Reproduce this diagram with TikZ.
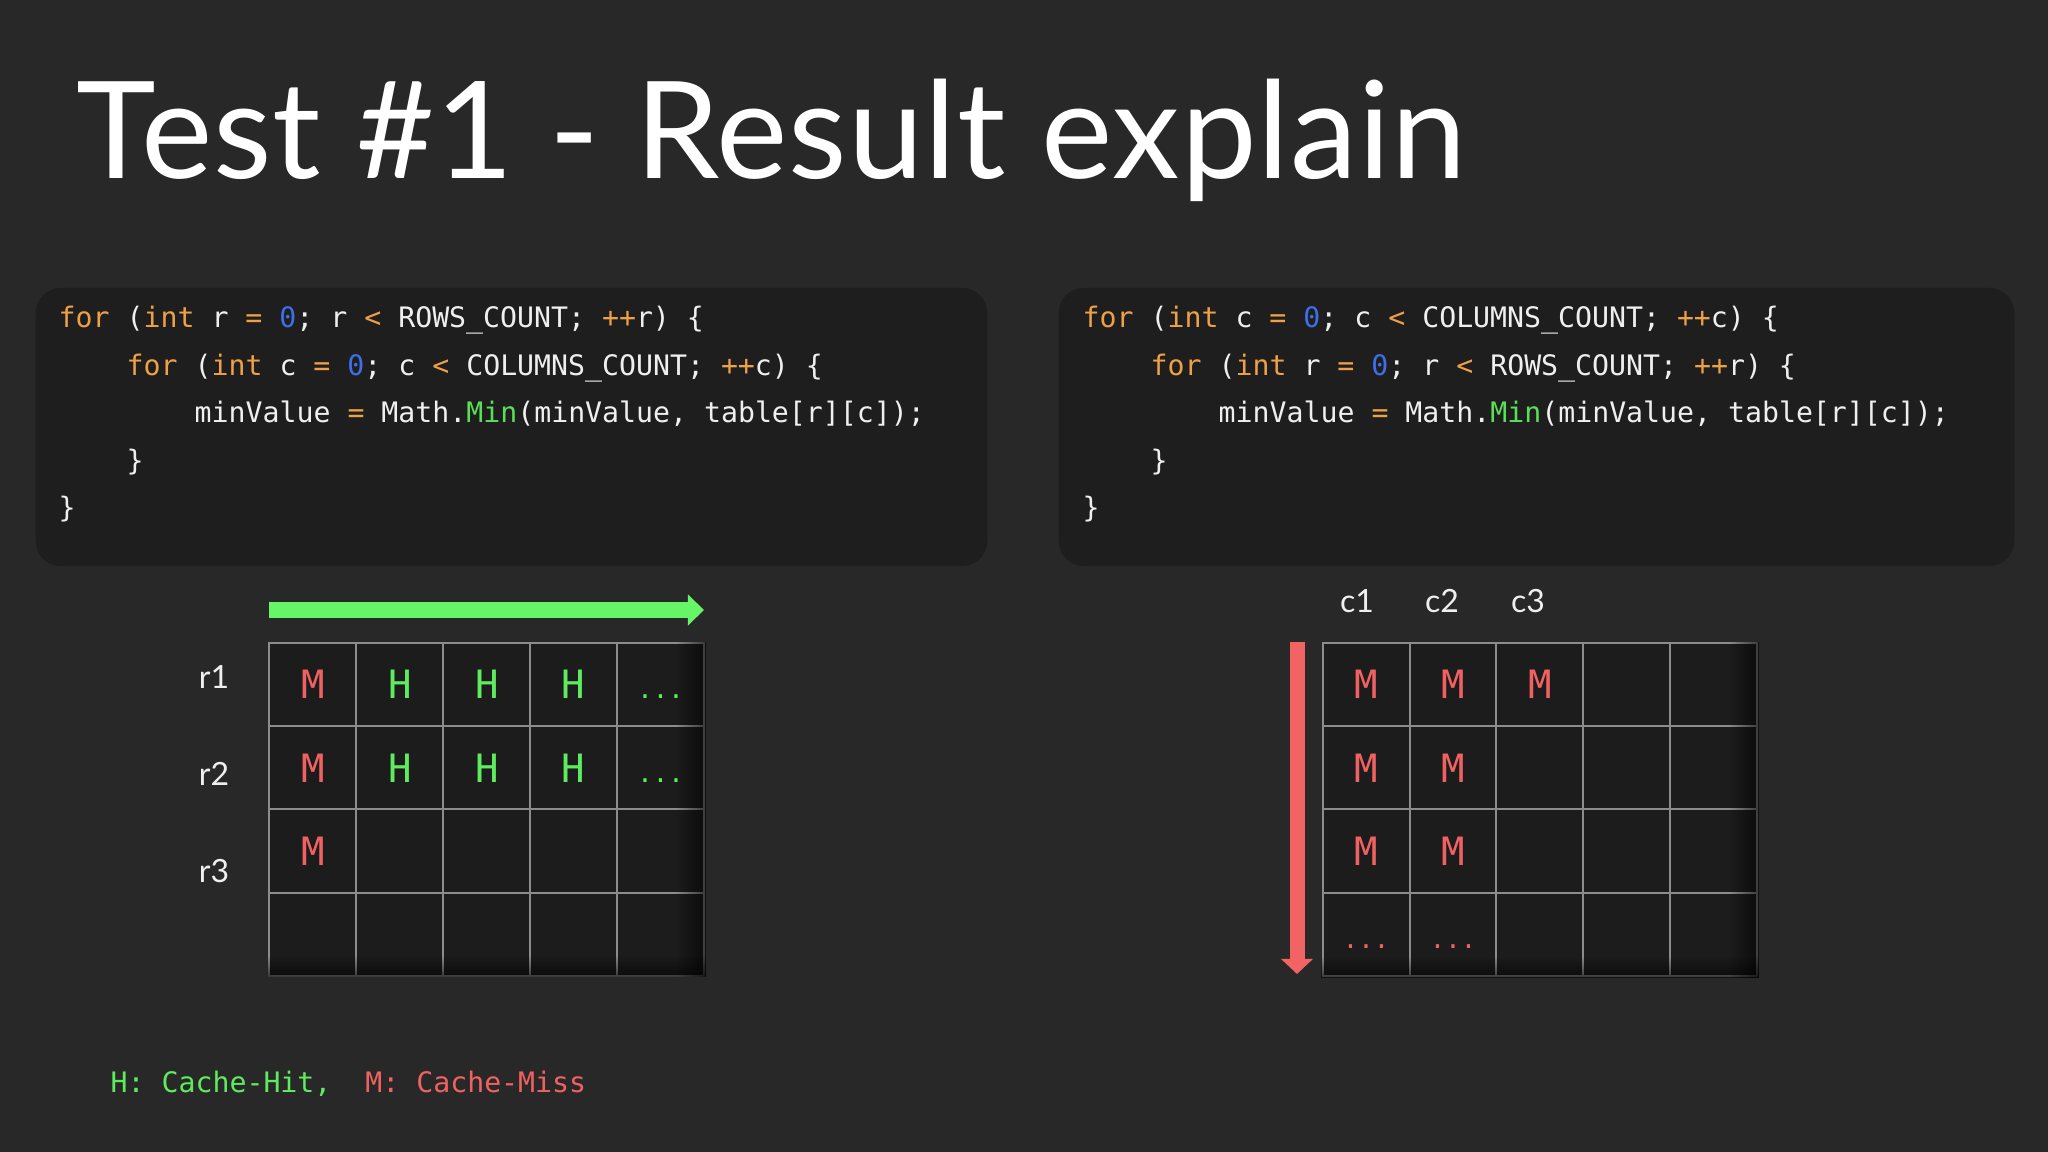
\documentclass[tikz,border=0pt]{standalone}
\usepackage{fontspec}
\usetikzlibrary{arrows.meta,fadings}
\setmainfont{Lato}
\newfontfamily\titlefont[LetterSpace=0.7]{Lato}
\newfontfamily\codefont{DejaVu Sans Mono}

\definecolor{slidebg}{HTML}{282828}
\definecolor{boxbg}{HTML}{1E1E1E}
\definecolor{cellbg}{HTML}{1C1C1C}
\definecolor{gridgray}{HTML}{8C8C8C}
\definecolor{kworange}{HTML}{EDA046}
\definecolor{numblue}{HTML}{3F6FE6}
\definecolor{fngreen}{HTML}{58E058}
\definecolor{hitgreen}{HTML}{5EEB5E}
\definecolor{missred}{HTML}{F06262}
\definecolor{arrowgreen}{HTML}{66F566}
\definecolor{arrowred}{HTML}{F26464}
\definecolor{codewhite}{HTML}{EFEFEF}

\newcommand{\kwd}[1]{\textcolor{kworange}{#1}}
\newcommand{\nmb}[1]{\textcolor{numblue}{#1}}
\newcommand{\fnc}[1]{\textcolor{fngreen}{#1}}
\newcommand{\ellip}{{\fontsize{7.3}{8}\selectfont...}}

\tikzset{
  codeline/.style={anchor=base west, inner sep=0pt, text=codewhite,
    font=\codefont\fontsize{8.02}{10}\selectfont},
  codebox/.style={fill=boxbg, rounded corners=2.5mm, inner sep=0pt},
  cell/.style={draw=gridgray, line width=0.2mm, fill=cellbg,
    minimum width=8.69mm, minimum height=8.33mm, inner sep=0pt},
  cellmark/.style={font=\codefont\fontsize{11.1}{13}\selectfont,
    text height=2.9mm, text depth=0pt, inner sep=0pt},
  axislabel/.style={anchor=base, inner sep=0pt, text=codewhite,
    font=\fontsize{9.1}{11}\selectfont}
}

\begin{document}
\begin{tikzpicture}[x=0.01cm, y=-0.01cm]
% slide
\fill[slidebg] (0,0) rectangle (2048,1152);
\useasboundingbox (0,0) rectangle (2048,1152);

\node[anchor=base west, inner sep=0pt, text=white,
  font=\titlefont\fontsize{38.4}{46}\selectfont] (title) at (76,179) {Test \#1 - Result explain};

% code boxes
\node[codebox, minimum width=9.51cm, minimum height=2.78cm] (rowbox) at (511.5,427) {};
\node[codebox, minimum width=9.55cm, minimum height=2.78cm] (colbox) at (1536.5,427) {};

% row by row
\node[codeline] (ra) at (58,328) {\kwd{for} (\kwd{int} r \kwd{=} \nmb{0}; r \kwd{<} ROWS\_COUNT; \kwd{++}r) \{};
\node[codeline] (rb) at (126,375.5) {\kwd{for} (\kwd{int} c \kwd{=} \nmb{0}; c \kwd{<} COLUMNS\_COUNT; \kwd{++}c) \{};
\node[codeline] (rc) at (194,423) {minValue \kwd{=} Math.\fnc{Min}(minValue, table[r][c]);};
\node[codeline] (rd) at (126,470.5) {\}};
\node[codeline] (re) at (58,518) {\}};

% column by column
\node[codeline] (ca) at (1082,328) {\kwd{for} (\kwd{int} c \kwd{=} \nmb{0}; c \kwd{<} COLUMNS\_COUNT; \kwd{++}c) \{};
\node[codeline] (cb) at (1150,375.5) {\kwd{for} (\kwd{int} r \kwd{=} \nmb{0}; r \kwd{<} ROWS\_COUNT; \kwd{++}r) \{};
\node[codeline] (cc) at (1218,423) {minValue \kwd{=} Math.\fnc{Min}(minValue, table[r][c]);};
\node[codeline] (cd) at (1150,470.5) {\}};
\node[codeline] (ce) at (1082,518) {\}};

% tables
\foreach \r in {1,...,4}
  \foreach \c in {1,...,5} {
    \node[cell] (L-\r-\c) at ({269.5+(\c-0.5)*86.9},{642.7+(\r-0.5)*83.3}) {};
    \node[cell] (R-\r-\c) at ({1322.7+(\c-0.5)*86.9},{642.7+(\r-0.5)*83.3}) {};
  }

% shadow on the right and bottom edges
\fill[black, opacity=0.6, path fading=west] (676,642) rectangle (706,977);
\fill[black, opacity=0.6, path fading=north] (268,955) rectangle (706,977);
\fill[black, opacity=0.6, path fading=west] (1729,642) rectangle (1759,978);
\fill[black, opacity=0.6, path fading=north] (1321,956) rectangle (1759,978);

\foreach \r/\c/\t/\col in {1/1/M/missred, 1/2/H/hitgreen, 1/3/H/hitgreen, 1/4/H/hitgreen, 1/5/\ellip/hitgreen,
    2/1/M/missred, 2/2/H/hitgreen, 2/3/H/hitgreen, 2/4/H/hitgreen, 2/5/\ellip/hitgreen,
    3/1/M/missred}
  \node[cellmark, text=\col] at (L-\r-\c) {\t};

\foreach \r/\c/\t in {1/1/M, 1/2/M, 1/3/M, 2/1/M, 2/2/M, 3/1/M, 3/2/M, 4/1/\ellip, 4/2/\ellip}
  \node[cellmark, text=missred] at (R-\r-\c) {\t};

% labels
\node[axislabel] (r1) at (214,688) {r1};
\node[axislabel] (r2) at (214,785) {r2};
\node[axislabel] (r3) at (214,882) {r3};
\node[axislabel] (c1) at (1357,613) {c1};
\node[axislabel] (c2) at (1442,613) {c2};
\node[axislabel] (c3) at (1528,613) {c3};

% access order
\coordinate (rowstart) at (269,610);
\coordinate (rowend) at (704,610);
\draw[arrowgreen, line width=1.6mm, -{Triangle[width=3mm,length=1.6mm]}] (rowstart) -- (rowend);
\coordinate (colstart) at (1297,642);
\coordinate (colend) at (1297,974);
\draw[arrowred, line width=1.5mm, -{Triangle[width=3.1mm,length=1.5mm]}] (colstart) -- (colend);

\node[codeline] (legend) at (110,1092) {\textcolor{hitgreen}{H: Cache-Hit,}~~\textcolor{missred}{M: Cache-Miss}};
\end{tikzpicture}
\end{document}
